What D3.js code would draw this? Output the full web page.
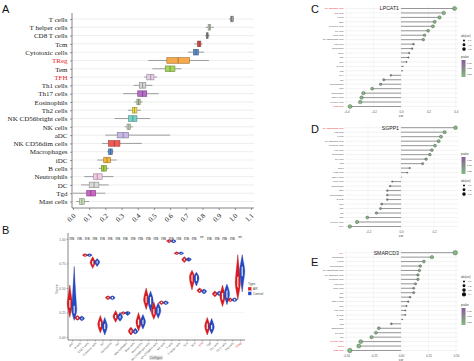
<!DOCTYPE html>
<html>
<head>
<meta charset="utf-8">
<script src="https://cdn.jsdelivr.net/npm/d3@7"></script>
<style>
body{margin:0;background:#fff}
svg{display:block}
</style>
</head>
<body>
<div id="chart"></div>
<script>
// ---- data: panel A (sorted by median) ----
const aCells = ['T cells','T helper cells','CD8 T cells','Tcm','Cytotoxic cells','TReg','Tem','TFH','Th1 cells','Th17 cells','Eosinophils','Th2 cells','NK CD56bright cells','NK cells','aDC','NK CD56dim cells','Macrophages','iDC','B cells','Neutrophils','DC','Tgd','Mast cells'];
const aMin = [0.965,0.82,0.815,0.75,0.71,0.465,0.49,0.44,0.375,0.31,0.38,0.34,0.257,0.32,0.20,0.18,0.21,0.15,0.16,0.07,0.05,0.0,0.02];
const aQ1  = [0.975,0.835,0.825,0.77,0.745,0.58,0.57,0.456,0.41,0.40,0.395,0.367,0.344,0.334,0.273,0.22,0.22,0.19,0.175,0.126,0.10,0.085,0.04];
const aMed = [0.98,0.843,0.83,0.78,0.76,0.65,0.60,0.48,0.43,0.43,0.405,0.38,0.37,0.345,0.31,0.255,0.232,0.21,0.19,0.15,0.13,0.11,0.055];
const aQ3  = [0.99,0.85,0.835,0.79,0.775,0.72,0.63,0.50,0.45,0.456,0.415,0.395,0.395,0.355,0.344,0.29,0.243,0.232,0.207,0.18,0.16,0.14,0.07];
const aMax = [0.995,0.87,0.845,0.80,0.81,0.84,0.67,0.52,0.49,0.53,0.43,0.42,0.477,0.37,0.60,0.425,0.25,0.27,0.22,0.25,0.22,0.20,0.10];
const aTicks = [0,0.1,0.2,0.3,0.4,0.5,0.6,0.7,0.8,0.9,1.0,1.1];
const aRed = ['TReg','TFH'];
const aFill = ['#a6a6a6','#c9d3bd','#8f8f8f','#e0544f','#5d8fc9','#f5a94a','#a8d65a','#e6cfe8','#d4d4d4','#b56cc7','#b8c9a3','#f2de4b','#74d2c6','#cbd8bd','#c7b9e3','#ef5b55','#5d8fc9','#f5b640','#a6d04d','#f3c9e6','#d9d9d9','#c966c4','#c8dfb8'];

// ---- data: panel B (violins by group) ----
const bCells = ['aDC','B cells','CD8 T cells','Cytotoxic cells','DC','Eosinophils','iDC','Macrophages','Mast cells','Neutrophils','NK CD56bright cells','NK CD56dim cells','NK cells','T cells','T helper cells','Tcm','Tem','TFH','Tgd','Th1 cells','Th17 cells','Th2 cells','TReg'];
const arMin = [0.20,0.17,0.82,0.70,0.04,0.38,0.15,0.23,0.02,0.06,0.28,0.18,0.33,0.96,0.84,0.76,0.48,0.45,0.02,0.41,0.31,0.36,0.38];
const arQ1  = [0.30,0.185,0.83,0.74,0.10,0.395,0.19,0.24,0.045,0.12,0.35,0.23,0.345,0.975,0.85,0.78,0.56,0.465,0.08,0.43,0.38,0.37,0.50];
const arMed = [0.34,0.195,0.835,0.76,0.13,0.40,0.21,0.245,0.06,0.15,0.38,0.26,0.35,0.98,0.855,0.79,0.61,0.475,0.11,0.44,0.41,0.375,0.55];
const arQ3  = [0.38,0.205,0.84,0.78,0.16,0.41,0.23,0.25,0.075,0.18,0.42,0.29,0.36,0.985,0.86,0.80,0.64,0.485,0.14,0.45,0.45,0.385,0.62];
const arMax = [0.53,0.22,0.85,0.82,0.22,0.42,0.27,0.26,0.10,0.25,0.50,0.36,0.37,0.995,0.87,0.82,0.68,0.50,0.20,0.47,0.53,0.40,0.84];
const ctMin = [0.17,0.165,0.82,0.72,0.02,0.38,0.16,0.22,0.03,0.08,0.26,0.19,0.33,0.96,0.84,0.77,0.52,0.44,0.03,0.42,0.33,0.36,0.46];
const ctQ1  = [0.24,0.18,0.83,0.75,0.08,0.39,0.19,0.235,0.045,0.13,0.33,0.24,0.34,0.97,0.85,0.785,0.57,0.455,0.08,0.435,0.40,0.37,0.62];
const ctMed = [0.28,0.19,0.835,0.765,0.11,0.40,0.205,0.245,0.055,0.155,0.37,0.27,0.35,0.98,0.855,0.79,0.60,0.465,0.10,0.445,0.44,0.38,0.67];
const ctQ3  = [0.32,0.20,0.84,0.78,0.14,0.41,0.22,0.255,0.065,0.18,0.41,0.30,0.36,0.985,0.86,0.80,0.63,0.475,0.13,0.455,0.48,0.39,0.72];
const ctMax = [0.72,0.215,0.85,0.80,0.20,0.42,0.25,0.26,0.09,0.23,0.47,0.35,0.37,0.995,0.87,0.81,0.66,0.49,0.19,0.47,0.54,0.40,0.84];
const bSig = ['ns','ns','ns','ns','ns','ns','ns','ns','ns','ns','ns','ns','ns','ns','ns','ns','ns','**','ns','ns','ns','ns','**'];
const bTicks = [0,0.25,0.5,0.75,1];
const bGroups = ['AR','Control'];

// ---- data: panels C, D, E (lollipops) ----
const cCells = ['NK CD56dim cells','Th1 cells','T cells','aDC','Cytotoxic cells','NK cells','Th17 cells','NK CD56bright cells','Th2 cells','Neutrophils','TReg','iDC','Tem','B cells','Tgd','TFH','DC','Macrophages','Tcm','Eosinophils','CD8 T cells','T helper cells','Mast cells'];
const cCor = [0.391,0.312,0.281,0.246,0.233,0.198,0.172,0.163,0.091,0.081,0.060,0.054,0.040,0.014,0.009,-0.074,-0.126,-0.149,-0.211,-0.275,-0.288,-0.298,-0.372];
const cP   = [0.001,0.01,0.02,0.04,0.05,0.09,0.14,0.16,0.42,0.47,0.6,0.64,0.73,0.9,0.94,0.54,0.3,0.22,0.08,0.02,0.015,0.012,0.002];
const dCells = ['NK CD56bright cells','Th2 cells','T cells','NK CD56dim cells','Cytotoxic cells','Th1 cells','Neutrophils','NK cells','Tgd','TReg','Mast cells','CD8 T cells','Th17 cells','Eosinophils','aDC','Macrophages','B cells','Tem','iDC','DC','Tcm','T helper cells','TFH'];
const dCor = [0.33,0.264,0.242,0.228,0.206,0.187,0.175,0.152,0.131,0.053,0.038,0.002,-0.053,-0.066,-0.083,-0.083,-0.083,-0.117,-0.124,-0.149,-0.204,-0.266,-0.31];
const dP   = [0.005,0.03,0.045,0.06,0.09,0.12,0.15,0.21,0.28,0.66,0.75,0.99,0.66,0.59,0.5,0.5,0.5,0.34,0.31,0.22,0.09,0.03,0.008];
const eCells = ['TFH','Neutrophils','T cells','Macrophages','NK CD56bright cells','NK CD56dim cells','Cytotoxic cells','Th2 cells','Th17 cells','iDC','aDC','CD8 T cells','Tem','Th1 cells','B cells','Tcm','Tgd','Eosinophils','NK cells','DC','T helper cells','TReg','Mast cells'];
const eCor = [0.493,0.281,0.208,0.175,0.167,0.154,0.154,0.132,0.116,0.116,0.083,0.066,0.05,0.039,0.039,0.013,-0.088,-0.202,-0.228,-0.268,-0.366,-0.384,-0.465];
const eP   = [0.0001,0.02,0.09,0.15,0.17,0.2,0.2,0.27,0.33,0.33,0.5,0.59,0.68,0.75,0.75,0.92,0.47,0.1,0.06,0.03,0.003,0.002,0.0003];

const width = 474, height = 361;
const svg = d3.select('div#chart').append('svg').attr('width',width).attr('height',height);
svg.append('rect').attr('width',width).attr('height',height).attr('fill','#fff');

const sans = 'Liberation Sans, Arial, sans-serif';
const serif = 'Liberation Serif, Times New Roman, serif';

// panel letters
[['A',2,13],['B',2,234],['C',311,13],['D',311,133],['E',311,266]].forEach(d => {
    svg.append('text').text(d[0]).attr('x',d[1]).attr('y',d[2])
        .attr('font-family',sans).attr('font-size',11).attr('fill','#111');
});

// ================= PANEL A =================
const gA = svg.append('g').attr('class','panelA');
const xA = d3.scaleLinear().domain([0,1.1]).range([73,251]);
const yA = d3.scalePoint().domain(aCells).range([19,201.5]);

gA.selectAll('line.grid').data(aCells).join('line').attr('class','grid')
    .attr('x1',72).attr('x2',254)
    .attr('y1',d => yA(d)).attr('y2',d => yA(d))
    .attr('stroke','#e3e3e3').attr('stroke-width',0.6);

const yAxisA = gA.append('g').attr('transform','translate(72,0)')
    .call(d3.axisLeft(yA).tickSize(2).tickSizeOuter(0));
yAxisA.select('.domain').remove();
yAxisA.selectAll('text').attr('font-family',serif).attr('font-size',7)
    .attr('dx',0.5)
    .attr('fill',d => aRed.includes(d) ? '#e8231f' : '#222');
yAxisA.selectAll('line').attr('stroke','#444').attr('stroke-width',0.5);

const xAxisA = gA.append('g').attr('transform','translate(0,208)')
    .call(d3.axisBottom(xA).tickValues(aTicks).tickFormat(d3.format('.1f')).tickSize(2).tickSizeOuter(0));
xAxisA.select('.domain').remove();
xAxisA.selectAll('line').attr('stroke','#444').attr('stroke-width',0.5);
xAxisA.selectAll('text').attr('font-family',serif).attr('font-size',7).attr('fill','#222')
    .attr('text-anchor','end').attr('y',0).attr('x',-1).attr('dy','0.7em')
    .attr('transform','translate(0,4) rotate(-45)');
gA.append('line').attr('x1',72).attr('x2',72).attr('y1',13).attr('y2',208).attr('stroke','#333').attr('stroke-width',0.6);
gA.append('line').attr('x1',72).attr('x2',254).attr('y1',208).attr('y2',208).attr('stroke','#333').attr('stroke-width',0.6);

const boxH = 5.6;
const boxes = gA.selectAll('g.box').data(aCells).join('g').attr('class','box');
boxes.append('line')
    .attr('x1',(d,i) => xA(aMin[i])).attr('x2',(d,i) => xA(aMax[i]))
    .attr('y1',d => yA(d)).attr('y2',d => yA(d))
    .attr('stroke','#7a7a7a').attr('stroke-width',0.7);
boxes.append('rect')
    .attr('x',(d,i) => xA(aQ1[i])).attr('width',(d,i) => Math.max(1.5, xA(aQ3[i]) - xA(aQ1[i])))
    .attr('y',d => yA(d) - boxH/2).attr('height',boxH)
    .attr('fill',(d,i) => aFill[i])
    .attr('stroke',(d,i) => d3.color(aFill[i]).darker(1.2)).attr('stroke-width',0.6);
boxes.append('line')
    .attr('x1',(d,i) => xA(aMed[i])).attr('x2',(d,i) => xA(aMed[i]))
    .attr('y1',d => yA(d) - boxH/2).attr('y2',d => yA(d) + boxH/2)
    .attr('stroke',(d,i) => d3.color(aFill[i]).darker(1.5)).attr('stroke-width',0.7);

// ================= PANEL B =================
const gB = svg.append('g').attr('class','panelB');
const xB = d3.scalePoint().domain(bCells).range([72,240]);
const yB = d3.scaleLinear().domain([0,1]).range([337,239]);
const groupColor = {AR:'#e0191f', Control:'#2249c8'};

gB.selectAll('line.grid').data(bTicks).join('line').attr('class','grid')
    .attr('x1',68).attr('x2',245).attr('y1',d => yB(d)).attr('y2',d => yB(d))
    .attr('stroke','#ececec').attr('stroke-width',0.5);

const yAxisB = gB.append('g').attr('transform','translate(68,0)')
    .call(d3.axisLeft(yB).tickValues(bTicks).tickFormat(d3.format('.2f')).tickSize(1.5).tickSizeOuter(0));
yAxisB.select('.domain').remove();
yAxisB.selectAll('line').attr('stroke','#555').attr('stroke-width',0.4);
yAxisB.selectAll('text').attr('font-family',sans).attr('font-size',3.2).attr('fill','#666').attr('x',-2.5);

const xAxisB = gB.append('g').attr('transform','translate(0,340)')
    .call(d3.axisBottom(xB).tickSize(1.5).tickSizeOuter(0));
xAxisB.select('.domain').remove();
xAxisB.selectAll('line').attr('stroke','#555').attr('stroke-width',0.4);
xAxisB.selectAll('text').attr('font-family',sans).attr('font-size',2.8)
    .attr('fill',d => (d === 'TFH' || d === 'TReg') ? '#e8231f' : '#555')
    .attr('text-anchor','end').attr('y',0).attr('x',0).attr('dy','0.6em')
    .attr('transform','translate(0,2.2) rotate(-45)');

gB.append('line').attr('x1',68).attr('x2',68).attr('y1',233).attr('y2',340).attr('stroke','#333').attr('stroke-width',0.6);
gB.append('line').attr('x1',68).attr('x2',245).attr('y1',340).attr('y2',340).attr('stroke','#333').attr('stroke-width',0.6);

gB.append('text').text('Score').attr('transform','translate(58,289) rotate(-90)')
    .attr('text-anchor','middle').attr('font-family',sans).attr('font-size',3.6).attr('fill','#555');
gB.append('rect').attr('x',149).attr('y',355.5).attr('width',14).attr('height',4.6).attr('fill','#e4e4e4');
gB.append('text').text('Celltype').attr('x',156).attr('y',359)
    .attr('text-anchor','middle').attr('font-family',sans).attr('font-size',3.4).attr('fill','#666');

gB.selectAll('text.sig').data(bCells).join('text').attr('class','sig')
    .attr('x',d => xB(d)).attr('y',239.5).attr('text-anchor','middle')
    .attr('font-family',sans).attr('font-size',4.6).attr('fill','#333')
    .text((d,i) => bSig[i]);

const vw = 2.8;
function drawViolin(cx, st, color) {
    const prof = [[st[0],0],[st[1],vw*0.8],[st[2],vw],[st[3],vw*0.8],[st[4],0]];
    const area = d3.area().y(d => yB(d[0])).x0(d => cx - d[1]).x1(d => cx + d[1]).curve(d3.curveBasis);
    gB.append('line').attr('x1',cx).attr('x2',cx).attr('y1',yB(st[0])).attr('y2',yB(st[4]))
        .attr('stroke','#8a8a8a').attr('stroke-width',0.4);
    gB.append('path').attr('d',area(prof)).attr('fill',color)
        .attr('stroke',d3.color(color).darker(0.6)).attr('stroke-width',0.3);
    const h = Math.max(0.8, yB(st[1]) - yB(st[3]));
    gB.append('rect').attr('x',cx - 0.7).attr('width',1.4)
        .attr('y',yB(st[3]) - (h - (yB(st[1]) - yB(st[3])))/2).attr('height',h)
        .attr('fill','#fff').attr('stroke',d3.color(color).darker(0.8)).attr('stroke-width',0.25);
}
bCells.forEach((c,i) => {
    const cx = xB(c);
    drawViolin(cx - 2.2, [arMin[i],arQ1[i],arMed[i],arQ3[i],arMax[i]], groupColor.AR);
    drawViolin(cx + 2.2, [ctMin[i],ctQ1[i],ctMed[i],ctQ3[i],ctMax[i]], groupColor.Control);
});

// legend B
gB.append('text').text('Type').attr('x',248).attr('y',285).attr('font-family',sans).attr('font-size',3.4).attr('fill','#444');
bGroups.forEach((g,i) => {
    gB.append('rect').attr('x',248).attr('y',287 + i*4.6).attr('width',3.6).attr('height',3.6)
        .attr('fill',groupColor[g]).attr('stroke','#fff').attr('stroke-width',0.3);
    gB.append('text').text(g).attr('x',253).attr('y',290 + i*4.6)
        .attr('font-family',sans).attr('font-size',3.2).attr('fill','#444');
});

// ================= PANELS C, D, E =================
const pColor = d3.scaleLinear().domain([0,0.9]).range(['#80bb7d','#8a5c9e']).clamp(true);
const rSize = d3.scaleSqrt().domain([0,0.5]).range([0,2.3]);

const defs = svg.append('defs');
const grad = defs.append('linearGradient').attr('id','pgrad').attr('x1',0).attr('x2',0).attr('y1',1).attr('y2',0);
grad.append('stop').attr('offset','0%').attr('stop-color','#80bb7d');
grad.append('stop').attr('offset','100%').attr('stop-color','#8a5c9e');

const lx0 = 345, lx1 = 458;
function lollipop(cfg) {
    const g = svg.append('g');
    const x = d3.scaleLinear().domain(cfg.domain).range([lx0,lx1]);
    const y = d3.scalePoint().domain(cfg.cells).range(cfg.rows);
    const top = cfg.rows[0] - 3, bottom = cfg.rows[1] + 3;

    g.selectAll('line.vg').data(cfg.ticks).join('line').attr('class','vg')
        .attr('x1',d => x(d)).attr('x2',d => x(d)).attr('y1',top).attr('y2',bottom)
        .attr('stroke','#ececec').attr('stroke-width',0.5);
    g.selectAll('line.hg').data(cfg.cells).join('line').attr('class','hg')
        .attr('x1',lx0).attr('x2',lx1).attr('y1',d => y(d)).attr('y2',d => y(d))
        .attr('stroke','#e6e6e6').attr('stroke-width',0.5);

    g.selectAll('text.lab').data(cfg.cells).join('text').attr('class','lab')
        .attr('x',lx0 - 1.5).attr('y',d => y(d)).attr('dy','0.35em').attr('text-anchor','end')
        .attr('font-family',sans).attr('font-size',2.3)
        .attr('fill',(d,i) => cfg.red.includes(i) ? '#e8231f' : '#4d4d4d')
        .text(d => d);

    const ax = g.append('g').attr('transform',`translate(0,${bottom})`)
        .call(d3.axisBottom(x).tickValues(cfg.ticks).tickFormat(d3.format(cfg.fmt)).tickSize(0));
    ax.select('.domain').remove();
    ax.selectAll('text').attr('font-family',sans).attr('font-size',2.8).attr('fill','#4d4d4d').attr('y',1.5);
    g.append('text').text('cor').attr('x',x(0)).attr('y',bottom + 7.5).attr('text-anchor','middle')
        .attr('font-family',sans).attr('font-size',3.2).attr('fill','#333');

    g.selectAll('line.stem').data(cfg.cells).join('line').attr('class','stem')
        .attr('x1',x(0)).attr('x2',(d,i) => x(cfg.cor[i]))
        .attr('y1',d => y(d)).attr('y2',d => y(d))
        .attr('stroke','#8c8c8c').attr('stroke-width',0.9);
    g.selectAll('circle.pt').data(cfg.cells).join('circle').attr('class','pt')
        .attr('cx',(d,i) => x(cfg.cor[i])).attr('cy',d => y(d))
        .attr('r',(d,i) => rSize(Math.abs(cfg.cor[i])))
        .attr('fill',(d,i) => pColor(cfg.p[i]))
        .attr('stroke','#3a3a3a').attr('stroke-width',0.35);

    g.append('text').text(cfg.gene).attr('x',x(0) - 2).attr('y',cfg.rows[0] + 1.8).attr('text-anchor','end')
        .attr('font-family',sans).attr('font-size',5.2).attr('fill','#222');

    // size legend
    const sy = cfg.sizeY;
    g.append('text').text('abs(cor)').attr('x',461).attr('y',sy).attr('font-family',sans).attr('font-size',2.6).attr('fill','#333');
    cfg.sizes.forEach((s,i) => {
        const cy = sy + 3.5 + i*4.3;
        g.append('circle').attr('cx',464).attr('cy',cy).attr('r',rSize(s)).attr('fill','#111');
        g.append('text').text(s.toFixed(1)).attr('x',468).attr('y',cy).attr('dy','0.35em')
            .attr('font-family',sans).attr('font-size',2.4).attr('fill','#333');
    });
    // colour legend
    const cyL = cfg.barY;
    g.append('text').text('pvalue').attr('x',461).attr('y',cyL).attr('font-family',sans).attr('font-size',2.6).attr('fill','#333');
    g.append('rect').attr('x',461.5).attr('y',cyL + 2).attr('width',4).attr('height',17).attr('fill','url(#pgrad)');
    cfg.barLabels.forEach((l,i) => {
        g.append('text').text(l).attr('x',467).attr('y',cyL + 5 + i*5.5).attr('dy','0.35em')
            .attr('font-family',sans).attr('font-size',2.4).attr('fill','#333');
    });
}

lollipop({cells:cCells, cor:cCor, p:cP, gene:'LPCAT1', rows:[8.5,106.5], domain:[-0.409,0.416],
    ticks:[-0.4,-0.2,0,0.2,0.4], fmt:'.1f', red:[0,22], sizeY:37, sizes:[0.1,0.2,0.3], barY:58, barLabels:['0.75','0.50','0.25']});
lollipop({cells:dCells, cor:dCor, p:dP, gene:'SGPP1', rows:[127.7,226.5], domain:[-0.339,0.345],
    ticks:[-0.2,0,0.2], fmt:'.1f', red:[0], sizeY:182, sizes:[0.1,0.2,0.3], barY:155, barLabels:['0.75','0.50','0.25']});
lollipop({cells:eCells, cor:eCor, p:eP, gene:'SMARCD3', rows:[252.7,350.5], domain:[-0.509,0.518],
    ticks:[-0.5,-0.25,0,0.25,0.5], fmt:'.2f', red:[0,20,21,22], sizeY:278, sizes:[0.1,0.2,0.3,0.4], barY:306, barLabels:['0.75','0.50','0.25']});
</script>
</body>
</html>
